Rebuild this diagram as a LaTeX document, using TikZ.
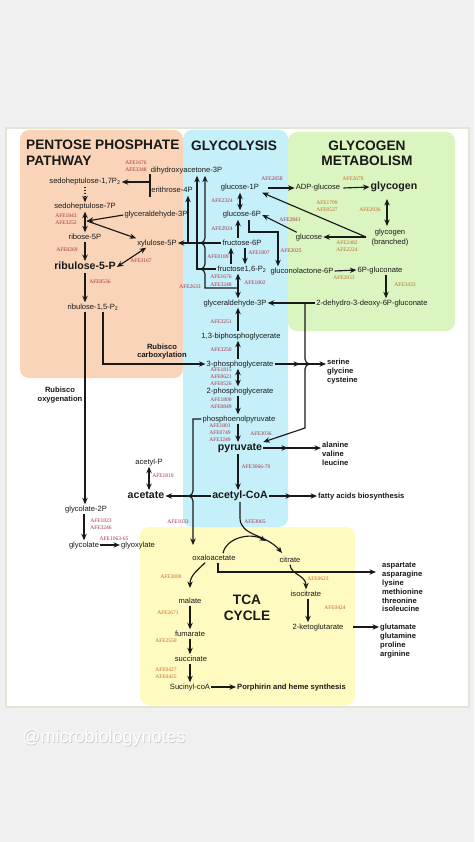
\documentclass[tikz,border=0pt]{standalone}
\usepackage{fontspec}
\setmainfont{Liberation Sans}
\newfontfamily\afefont{Liberation Serif}
\usetikzlibrary{arrows.meta,calc}
\definecolor{pppc}{RGB}{250,212,184}
\definecolor{glyc}{RGB}{197,240,250}
\definecolor{glgc}{RGB}{218,245,192}
\definecolor{tcac}{RGB}{255,250,192}
\definecolor{afered}{RGB}{168,48,62}
\definecolor{afeor}{RGB}{192,104,42}
\definecolor{txt}{RGB}{25,25,25}
\definecolor{bgc}{RGB}{240,240,240}
\definecolor{framec}{RGB}{224,229,214}
\begin{document}
\begin{tikzpicture}[x=1pt,y=-1pt,
  lab/.style={font=\fontsize{7.6}{8.5}\selectfont, text=txt, inner sep=1pt, text height=5.5pt, text depth=1.5pt},
  big/.style={font=\bfseries\fontsize{10.6}{12}\selectfont, text=txt, inner sep=1pt, text height=7.5pt, text depth=2pt},
  bsm/.style={font=\bfseries\fontsize{7.6}{8.5}\selectfont, text=txt, inner sep=1pt, text height=5.5pt, text depth=1.5pt},
  ttl/.style={font=\bfseries\fontsize{13.7}{15}\selectfont, text=txt, inner sep=0pt, text height=9.8pt, text depth=0pt},
  afe/.style={font=\afefont\fontsize{5.5}{6}\selectfont, text=afered, inner sep=0pt, text height=3.7pt, text depth=0pt},
  afo/.style={afe, text=afeor},
  ln/.style={line width=1.15pt, draw=txt},
  arr/.style={ln, -{Stealth[length=6.5pt,width=5.4pt]}},
  darr/.style={ln, {Stealth[length=6.5pt,width=5.4pt]}-{Stealth[length=6.5pt,width=5.4pt]}},
]
\fill[bgc] (0,0) rectangle (474,842);
\useasboundingbox (0,0) rectangle (474,842);
% frame and boxes
\filldraw[fill=white, draw=framec, line width=1.5pt] (6,128) rectangle (469,707);
\fill[pppc, rounded corners=9pt] (20,130) rectangle (183,378);
\fill[glgc, rounded corners=9pt] (288,132) rectangle (455,331);
\fill[tcac, rounded corners=9pt] (140,527) rectangle (355,705);
\fill[glyc, rounded corners=9pt] (183,130) rectangle (288,527);
% watermark
\node[font=\fontsize{18}{20}\selectfont, text=gray!40] (wms) at (104.7,738.7) {@microbiologynotes};
\node[font=\fontsize{18}{20}\selectfont, text=white] (wm) at (104,738) {@microbiologynotes};
% titles
\node[ttl, anchor=west] (tp1) at (26,145) {PENTOSE PHOSPHATE};
\node[ttl, anchor=west] (tp2) at (26,161) {PATHWAY};
\node[ttl] (tg) at (234,146) {GLYCOLYSIS};
\node[ttl] (tm1) at (367,146) {GLYCOGEN};
\node[ttl] (tm2) at (367,161) {METABOLISM};
\node[ttl] (tc1) at (247,600) {TCA};
\node[ttl] (tc2) at (247,616) {CYCLE};
% pentose phosphate
\node[lab] (sh17) at (85,182) {sedoheptulose-1,7P\textsubscript{2}};
\node[lab] (dhap) at (186.5,171) {dihydroxyacetone-3P};
\node[lab] (e4p) at (172,191) {erithrose-4P};
\node[lab] (sh7) at (85,207) {sedoheptulose-7P};
\node[lab] (g3pa) at (156,215) {glyceraldehyde-3P};
\node[lab] (r5p) at (85,237) {ribose-5P};
\node[lab] (x5p) at (157,243) {xylulose-5P};
\node[big] (ru5p) at (85,267) {ribulose-5-P};
\node[lab] (ru15) at (93,307) {ribulose-1,5-P\textsubscript{2}};
% glycolysis
\node[lab] (g1p) at (240,188) {glucose-1P};
\node[lab] (g6p) at (242,215) {glucose-6P};
\node[lab] (f6p) at (242,243) {fructose-6P};
\node[lab] (fbp) at (242,269) {fructose1,6-P\textsubscript{2}};
\node[lab] (gap) at (235,303) {glyceraldehyde-3P};
\node[lab] (bpg) at (241,336) {1,3-biphosphoglycerate};
\node[lab] (pg3) at (240,364) {3-phosphoglycerate};
\node[lab] (pg2) at (240,391) {2-phosphoglycerate};
\node[lab] (pep) at (239,419) {phosphoenolpyruvate};
\node[big] (pyr) at (240,448) {pyruvate};
\node[big] (acoa) at (240,496) {acetyl-CoA};
% glycogen
\node[lab] (adpg) at (318,188) {ADP-glucose};
\node[big] (glycogen) at (394,187) {glycogen};
\node[lab] (glcb1) at (390,232) {glycogen};
\node[lab] (glcb2) at (390,242) {(branched)};
\node[lab] (glc) at (309,237) {glucose};
\node[lab] (gl6p) at (302,271) {gluconolactone-6P};
\node[lab] (p6g) at (380,270) {6P-gluconate};
\node[lab] (kdpg) at (372,303) {2-dehydro-3-deoxy-6P-gluconate};
% left
\node[bsm] (rc1) at (162,347) {Rubisco};
\node[bsm] (rc2) at (162,355) {carboxylation};
\node[bsm] (ro1) at (60,390) {Rubisco};
\node[bsm] (ro2) at (60,399) {oxygenation};
\node[lab] (g2p) at (86,509) {glycolate-2P};
\node[lab] (glyc) at (84,545) {glycolate};
\node[lab] (glyox) at (138,545) {glyoxylate};
\node[lab] (acp) at (149,462) {acetyl-P};
\node[big] (ace) at (146,496) {acetate};
% right lists
\node[bsm, anchor=west] (ser1) at (326,362) {serine};
\node[bsm, anchor=west] (ser2) at (326,371) {glycine};
\node[bsm, anchor=west] (ser3) at (326,380) {cysteine};
\node[bsm, anchor=west] (ala1) at (321,445) {alanine};
\node[bsm, anchor=west] (ala2) at (321,454) {valine};
\node[bsm, anchor=west] (ala3) at (321,463) {leucine};
\node[bsm, anchor=west] (fa) at (317,496) {fatty acids biosynthesis};
\node[bsm, anchor=west] (asp1) at (381,565) {aspartate};
\node[bsm, anchor=west] (asp2) at (381,574) {asparagine};
\node[bsm, anchor=west] (asp3) at (381,583) {lysine};
\node[bsm, anchor=west] (asp4) at (381,592) {methionine};
\node[bsm, anchor=west] (asp5) at (381,601) {threonine};
\node[bsm, anchor=west] (asp6) at (381,609.5) {isoleucine};
\node[bsm, anchor=west] (glu1) at (379,627) {glutamate};
\node[bsm, anchor=west] (glu2) at (379,636) {glutamine};
\node[bsm, anchor=west] (glu3) at (379,645) {proline};
\node[bsm, anchor=west] (glu4) at (379,654) {arginine};
% TCA
\node[lab] (oaa) at (214,558) {oxaloacetate};
\node[lab] (cit) at (290,560) {citrate};
\node[lab] (mal) at (190,601) {malate};
\node[lab] (fum) at (190,634) {fumarate};
\node[lab] (suc) at (191,659) {succinate};
\node[lab] (scoa) at (190,687) {Sucinyl-coA};
\node[bsm, anchor=west] (porph) at (236,687) {Porphirin and heme synthesis};
\node[lab] (icit) at (306,594) {isocitrate};
\node[lab] (akg) at (318,627) {2-ketoglutarate};
% AFE labels
\node[afe] (e01) at (136,163) {AFE1676};
\node[afe] (e02) at (136,170) {AFE3348};
\node[afe] (e03) at (66,216) {AFE1843};
\node[afe] (e04) at (66,223) {AFE3252};
\node[afe] (e05) at (67,250) {AFE0269};
\node[afe] (e06) at (141,261) {AFE3167};
\node[afe] (e07) at (100,282) {AFE0536};
\node[afe] (e08) at (272,179) {AFE2858};
\node[afe] (e09) at (222,201) {AFE2324};
\node[afe] (e10) at (222,229) {AFE2924};
\node[afe] (e11) at (218,257) {AFE0189};
\node[afe] (e12) at (259,253) {AFE1807};
\node[afe] (e13) at (290,220) {AFE2841};
\node[afe] (e14) at (291,251) {AFE2025};
\node[afo] (e15) at (327,203) {AFE1799};
\node[afo] (e16) at (327,210) {AFE0527};
\node[afo] (e17) at (353,179) {AFE2678};
\node[afo] (e18) at (370,210) {AFE2936};
\node[afo] (e19) at (347,243) {AFE2482};
\node[afo] (e20) at (347,250) {AFE2224};
\node[afo] (e21) at (344,278) {AFE2833};
\node[afo] (e22) at (405,285) {AFE3433};
\node[afe] (e23) at (190,287) {AFE2633};
\node[afe] (e24) at (221,277) {AFE1676};
\node[afe] (e25) at (221,285) {AFE3248};
\node[afe] (e26) at (255,283) {AFE1802};
\node[afe] (e27) at (221,322) {AFE3251};
\node[afe] (e28) at (221,350) {AFE3250};
\node[afe] (e29) at (221,370) {AFE1815};
\node[afe] (e30) at (221,377) {AFE0621};
\node[afe] (e31) at (221,384) {AFE0526};
\node[afe] (e32) at (221,400) {AFE1800};
\node[afe] (e33) at (221,407) {AFE0849};
\node[afe] (e34) at (220,426) {AFE1801};
\node[afe] (e35) at (220,433) {AFE0749};
\node[afe] (e36) at (220,440) {AFE3249};
\node[afe] (e37) at (261,434) {AFE3036};
\node[afe] (e38) at (256,467) {AFE3066-70};
\node[afe] (e39) at (163,476) {AFE1810};
\node[afe] (e40) at (178,522) {AFE1033};
\node[afe] (e41) at (255,522) {AFE3065};
\node[afe] (e42) at (101,521) {AFE1823};
\node[afe] (e43) at (101,528) {AFE3246};
\node[afe] (e44) at (114,539) {AFE1063-65};
\node[afo] (e45) at (171,577) {AFE3000};
\node[afo] (e46) at (318,579) {AFE0623};
\node[afo] (e47) at (168,613) {AFE2671};
\node[afo] (e48) at (166,641) {AFE2550};
\node[afo] (e49) at (166,670) {AFE0427};
\node[afo] (e50) at (166,677) {AFE0425};
\node[afo] (e51) at (335,608) {AFE0424};
% ---------- connectors ----------
% pentose phosphate
\coordinate (bt) at (150,174);
\coordinate (bb) at (150,197);
\draw[ln] (bt) -- (bb);
\draw[arr] (bt |- sh17) -- (sh17.east);
\draw[arr, dash pattern=on 1.6pt off 1.4pt] (sh17.south) -- (sh17.south |- sh7.north);
\draw[darr] (sh7.south) -- (sh7.south |- r5p.north);
\coordinate (jn) at (87,221);
\draw[arr] (g3pa.west) -- (jn);
\draw[arr] (jn) -- (x5p.north west);
\draw[arr] (r5p.south) -- (r5p.south |- ru5p.north);
\draw[darr] (ru5p.east) -- ($(x5p.south west)+(10,0)$);
\draw[arr] (ru5p.south) -- (ru5p.south |- ru15.north);
\draw[arr] (ru5p.south |- ru15.south) -- (ru5p.south |- g2p.north);
\coordinate (rcx) at (103,0);
\draw[arr] (rcx |- ru15.south) -- (rcx |- pg3) -- (pg3.west);
% links between pentose phosphate and glycolysis
\coordinate (va) at (188,243);
\draw[arr] (va) -- (va |- e4p.south);
\draw[arr] (f6p.west) -- (x5p.east);
\coordinate (vb) at (197,269);
\draw[arr] (fbp.west) -- (vb) -- (vb |- dhap.south);
\coordinate (vc) at (205,288);
\coordinate (gx) at (238,0);
\draw[arr] (gx |- vc) -- (vc) -- (205,274) .. controls (205,271) and (203,270) .. (201,269) .. controls (203,268) and (205,267) .. (205,264) -- (205,248) .. controls (205,245) and (203,244) .. (201,243) .. controls (203,242) and (205,241) .. (205,238) -- (vc |- dhap.south);
% glycolysis
\draw[darr] (g1p.south) -- (g1p.south |- g6p.north);
\draw[arr] (gx |- f6p.north) -- (gx |- g6p.south);
\coordinate (gxl) at (231,0);
\coordinate (gxr) at (245,0);
\draw[arr] (gxl |- fbp.north) -- (gxl |- f6p.south);
\draw[arr] (gxr |- f6p.south) -- (gxr |- fbp.north);
\coordinate (g6d) at (249,232);
\coordinate (g6r) at (278,232);
\draw[arr] (g6d |- g6p.south) -- (g6d) -- (g6r) -- (g6r |- gl6p.north);
\draw[darr] (gx |- fbp.south) -- (gx |- gap.north);
\draw[arr] (gx |- bpg.north) -- (gx |- gap.south);
\draw[arr] (gx |- pg3.north) -- (gx |- bpg.south);
\draw[darr] (gx |- pg3.south) -- (gx |- pg2.north);
\draw[arr] (gx |- pg2.south) -- (gx |- pep.north);
\draw[arr] (gx |- pep.south) -- (gx |- pyr.north);
\draw[arr] (gx |- pyr.south) -- (gx |- acoa.north);
% glycogen
\draw[arr] ($(g1p.east)+(8,0)$) -- (adpg.west);
\draw[arr] ($(adpg.east)+(2,0)$) -- (glycogen.west);
\coordinate (gv1) at (387,199);
\coordinate (gv2) at (387,226);
\draw[darr] (gv1) -- (gv2);
\coordinate (gbj) at (366,237);
\draw[arr] (gbj) -- ($(g1p.south east)+(2,0)$);
\draw[arr] (gbj) -- (gbj -| glc.east);
\draw[arr] ($(glc.north west)+(2,0)$) -- (g6p.east);
\draw[arr] (gl6p.east) -- (p6g.west);
\coordinate (kx) at (386,0);
\draw[arr] (kx |- p6g.south) -- (kx |- kdpg.north);
\draw[arr] (kdpg.west) -- (gap.east);
\coordinate (vx) at (305,303);
\draw[arr] (vx) -- (305,359) .. controls (305,362) and (307,363) .. (309,364) .. controls (307,365) and (305,366) .. (305,369) -- (305,428) -- (pyr.north east);
% outputs
\coordinate (m1) at (300,364);
\draw[arr] (pg3.east) -- (pg3.east -| ser1.west);
\draw[arr] (pg3.east) -- (m1);
\coordinate (m2) at (288,448);
\draw[arr] (pyr.east) -- (pyr.east -| ala1.west);
\draw[arr] (pyr.east) -- (m2);
\coordinate (m3) at (292,496);
\draw[arr] (acoa.east) -- (acoa.east -| fa.west);
\draw[arr] (acoa.east) -- (m3);
% acetate, oxaloacetate
\draw[arr] (acoa.west) -- (ace.east);
\draw[darr] (acp.south) -- (acp.south |- ace.north);
\coordinate (px) at (193,419);
\coordinate (oaat) at (193,545);
\draw[arr] (pep.west) -- (px) -- (193,491) .. controls (193,494) and (191,495) .. (189,496) .. controls (191,497) and (193,498) .. (193,501) -- (oaat);
% glycolate
\draw[arr] (g2p.south -| glyc.north) -- (glyc.north);
\draw[arr] (glyc.east) -- (glyox.west);
% TCA
\coordinate (ac1) at (240,518);
\coordinate (cin) at (282,553);
\draw[arr] (acoa.south) -- (ac1) .. controls (240,536) and (266,534) .. (cin);
\coordinate (cin2) at (266,541);
\draw[arr] ($(oaa.north)+(9,0)$) .. controls (226,538) and (250,532) .. (cin2);
\coordinate (mt) at (190,588);
\draw[arr] ($(oaa.south)+(-9,0)$) .. controls (198,570) and (190,575) .. (mt);
\coordinate (oa1) at (218,572);
\coordinate (oa2) at (376,572);
\draw[arr] (oaa.south -| oa1) -- (oa1) -- (oa2);
\draw[arr] (cit.south) .. controls (291,575) and (306,575) .. (icit.north);
\coordinate (ix) at (308,0);
\draw[arr] (ix |- icit.south) -- (ix |- akg.north);
\draw[arr] ($(akg.east)+(8,0)$) -- (glu1.west);
\draw[arr] (mal.south) -- (mal.south |- fum.north);
\draw[arr] (fum.south) -- (fum.south |- suc.north);
\draw[arr] (fum.south |- suc.south) -- (fum.south |- scoa.north);
\draw[arr] (scoa.east) -- (porph.west);
\end{tikzpicture}
\end{document}
